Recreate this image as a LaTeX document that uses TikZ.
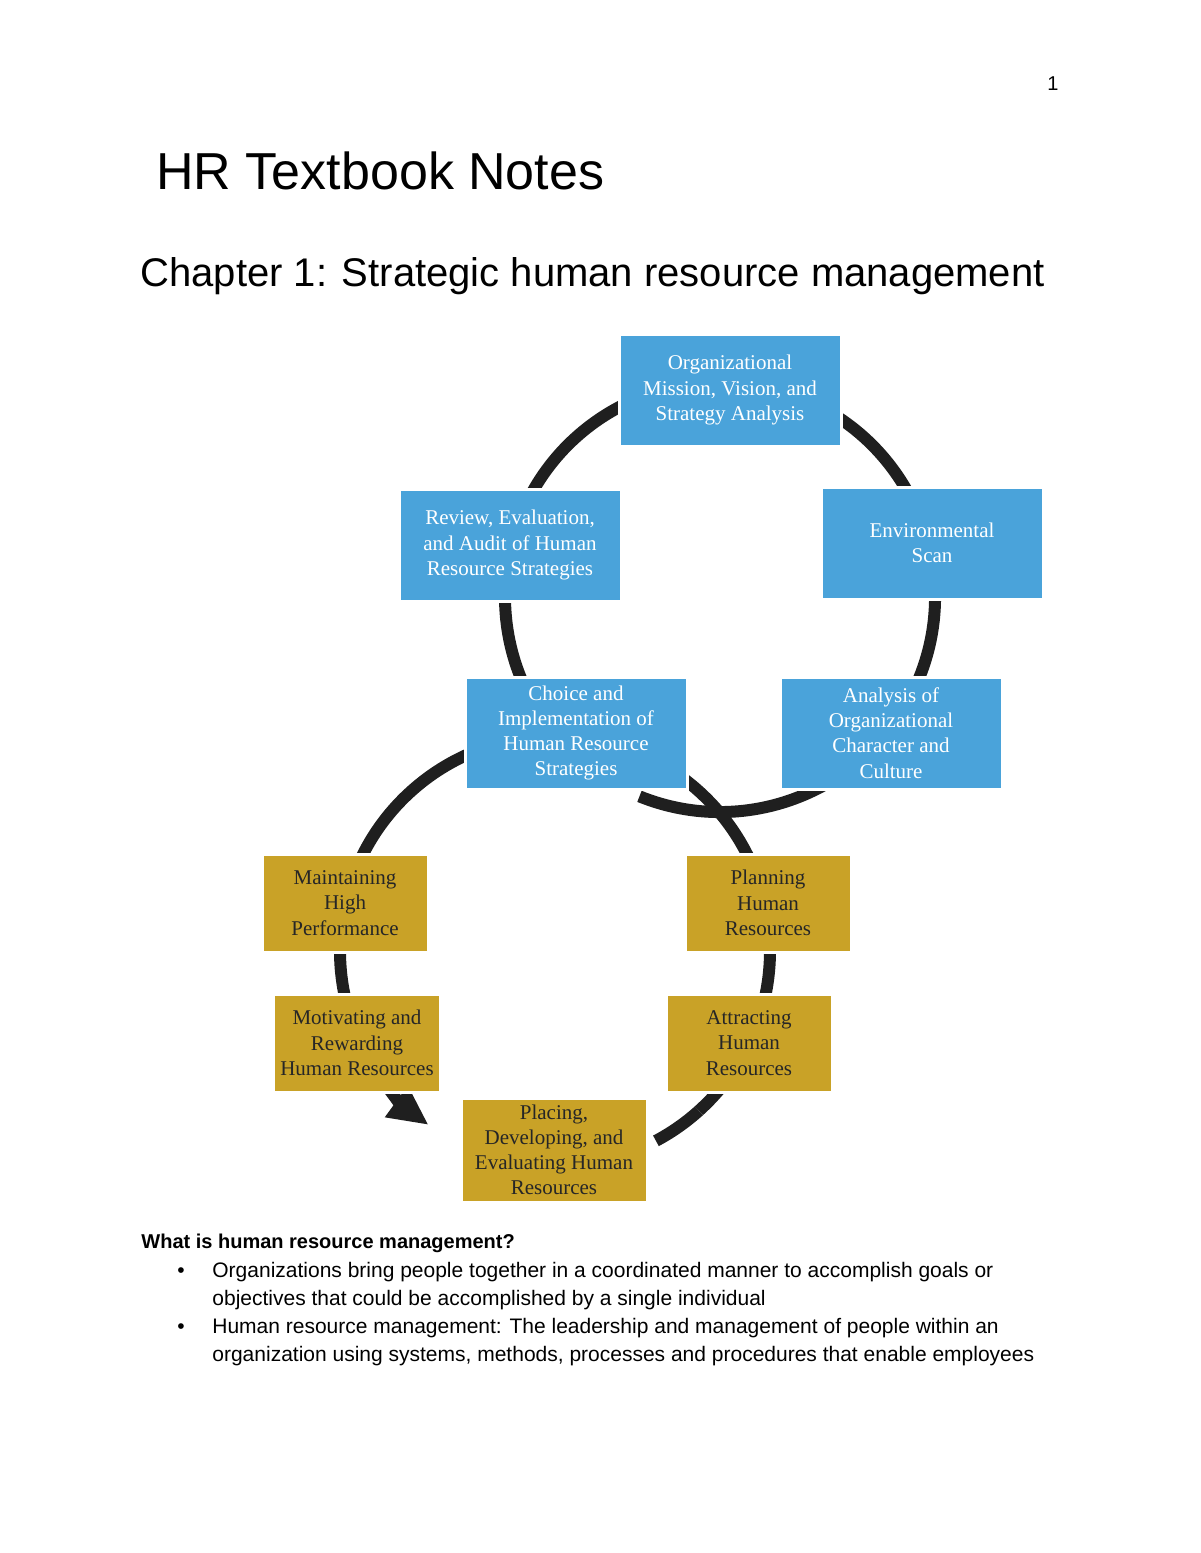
\documentclass[tikz,border=0pt]{standalone}
\usepackage{fontspec}
\setmainfont{Liberation Sans}
\newfontfamily\boxfont{Liberation Serif}
\usetikzlibrary{arrows.meta,shadows}
\definecolor{hrblue}{HTML}{4AA3DA}
\definecolor{hrgold}{HTML}{C9A227}
\begin{document}
\begin{tikzpicture}[x=0.5pt,y=-0.5pt,
  bx/.style={draw=white,line width=1.5pt,minimum width=111pt,minimum height=56pt,align=center,
    font=\boxfont\fontsize{10.5}{12.6}\selectfont,drop shadow={shadow xshift=1pt,shadow yshift=-1pt,opacity=0.35}},
  bb/.style={bx,fill=hrblue,text=white},
  gb/.style={bx,fill=hrgold,text=black!85,minimum width=83pt,minimum height=49pt},
  ring/.style={line width=6pt,black!88},
  arr/.style={ring,-{Triangle[length=20pt,width=18pt]}},
  tx/.style={anchor=base west,inner sep=0pt,font=\fontsize{10.5}{12}\selectfont}]
\useasboundingbox (0,0) rectangle (1200,1553);
% rings
\draw[ring] (720,597) ++(112:215) arc[start angle=112,end angle=-205,radius=215];
\draw[arr] (720,597) ++(151:215) arc[start angle=151,end angle=123,radius=215];
\draw[ring] (555,951) ++(48:215) arc[start angle=48,end angle=-204,radius=215];
\draw[arr] (555,951) ++(151:215) arc[start angle=151,end angle=126,radius=215];
% blue boxes
\node[bb] (org) at (730,390) {Organizational\\Mission, Vision, and\\Strategy Analysis};
\node[bb] (env) at (932,543) {Environmental\\Scan};
\node[bb] (ana) at (891,733) {Analysis of\\Organizational\\Character and\\Culture};
\node[bb] (cho) at (576,733) {Choice and\\Implementation of\\Human Resource\\Strategies};
\node[bb] (rev) at (510,545) {Review, Evaluation,\\and Audit of Human\\Resource Strategies};
% crossing segment over choice box
\draw[ring] (555,951) ++(48:215) arc[start angle=48,end angle=62,radius=215];
% gold boxes
\node[gb] (pla) at (768,903) {Planning\\Human\\Resources};
\node[gb] (att) at (749,1043) {Attracting\\Human\\Resources};
\node[gb,minimum width=93pt,minimum height=52pt] (plc) at (554,1150) {Placing,\\Developing, and\\Evaluating Human\\Resources};
\node[gb] (mot) at (357,1043) {Motivating and\\Rewarding\\Human Resources};
\node[gb] (mai) at (345,903) {Maintaining\\High\\Performance};
% texts
\node[tx,font=\fontsize{10}{12}\selectfont] (pg) at (1047,90) {1};
\node[tx,font=\fontsize{26}{30}\selectfont] (t1) at (156,189) {HR Textbook Notes};
\node[tx,font=\fontsize{20}{24}\selectfont] (t2) at (140,286) {Chapter 1: Strategic human resource management};
\node[tx,font=\bfseries\fontsize{10}{12}\selectfont] (q) at (141,1248) {What is human resource management?};
\node[tx] (b1) at (177,1277) {\textbullet};
\node[tx] (l1) at (212,1277) {Organizations bring people together in a coordinated manner to accomplish goals or};
\node[tx] (l2) at (212,1305) {objectives that could be accomplished by a single individual};
\node[tx] (b2) at (177,1333) {\textbullet};
\node[tx] (l3) at (212,1333) {Human resource management: The leadership and management of people within an};
\node[tx] (l4) at (212,1361) {organization using systems, methods, processes and procedures that enable employees};
\end{tikzpicture}
\end{document}
